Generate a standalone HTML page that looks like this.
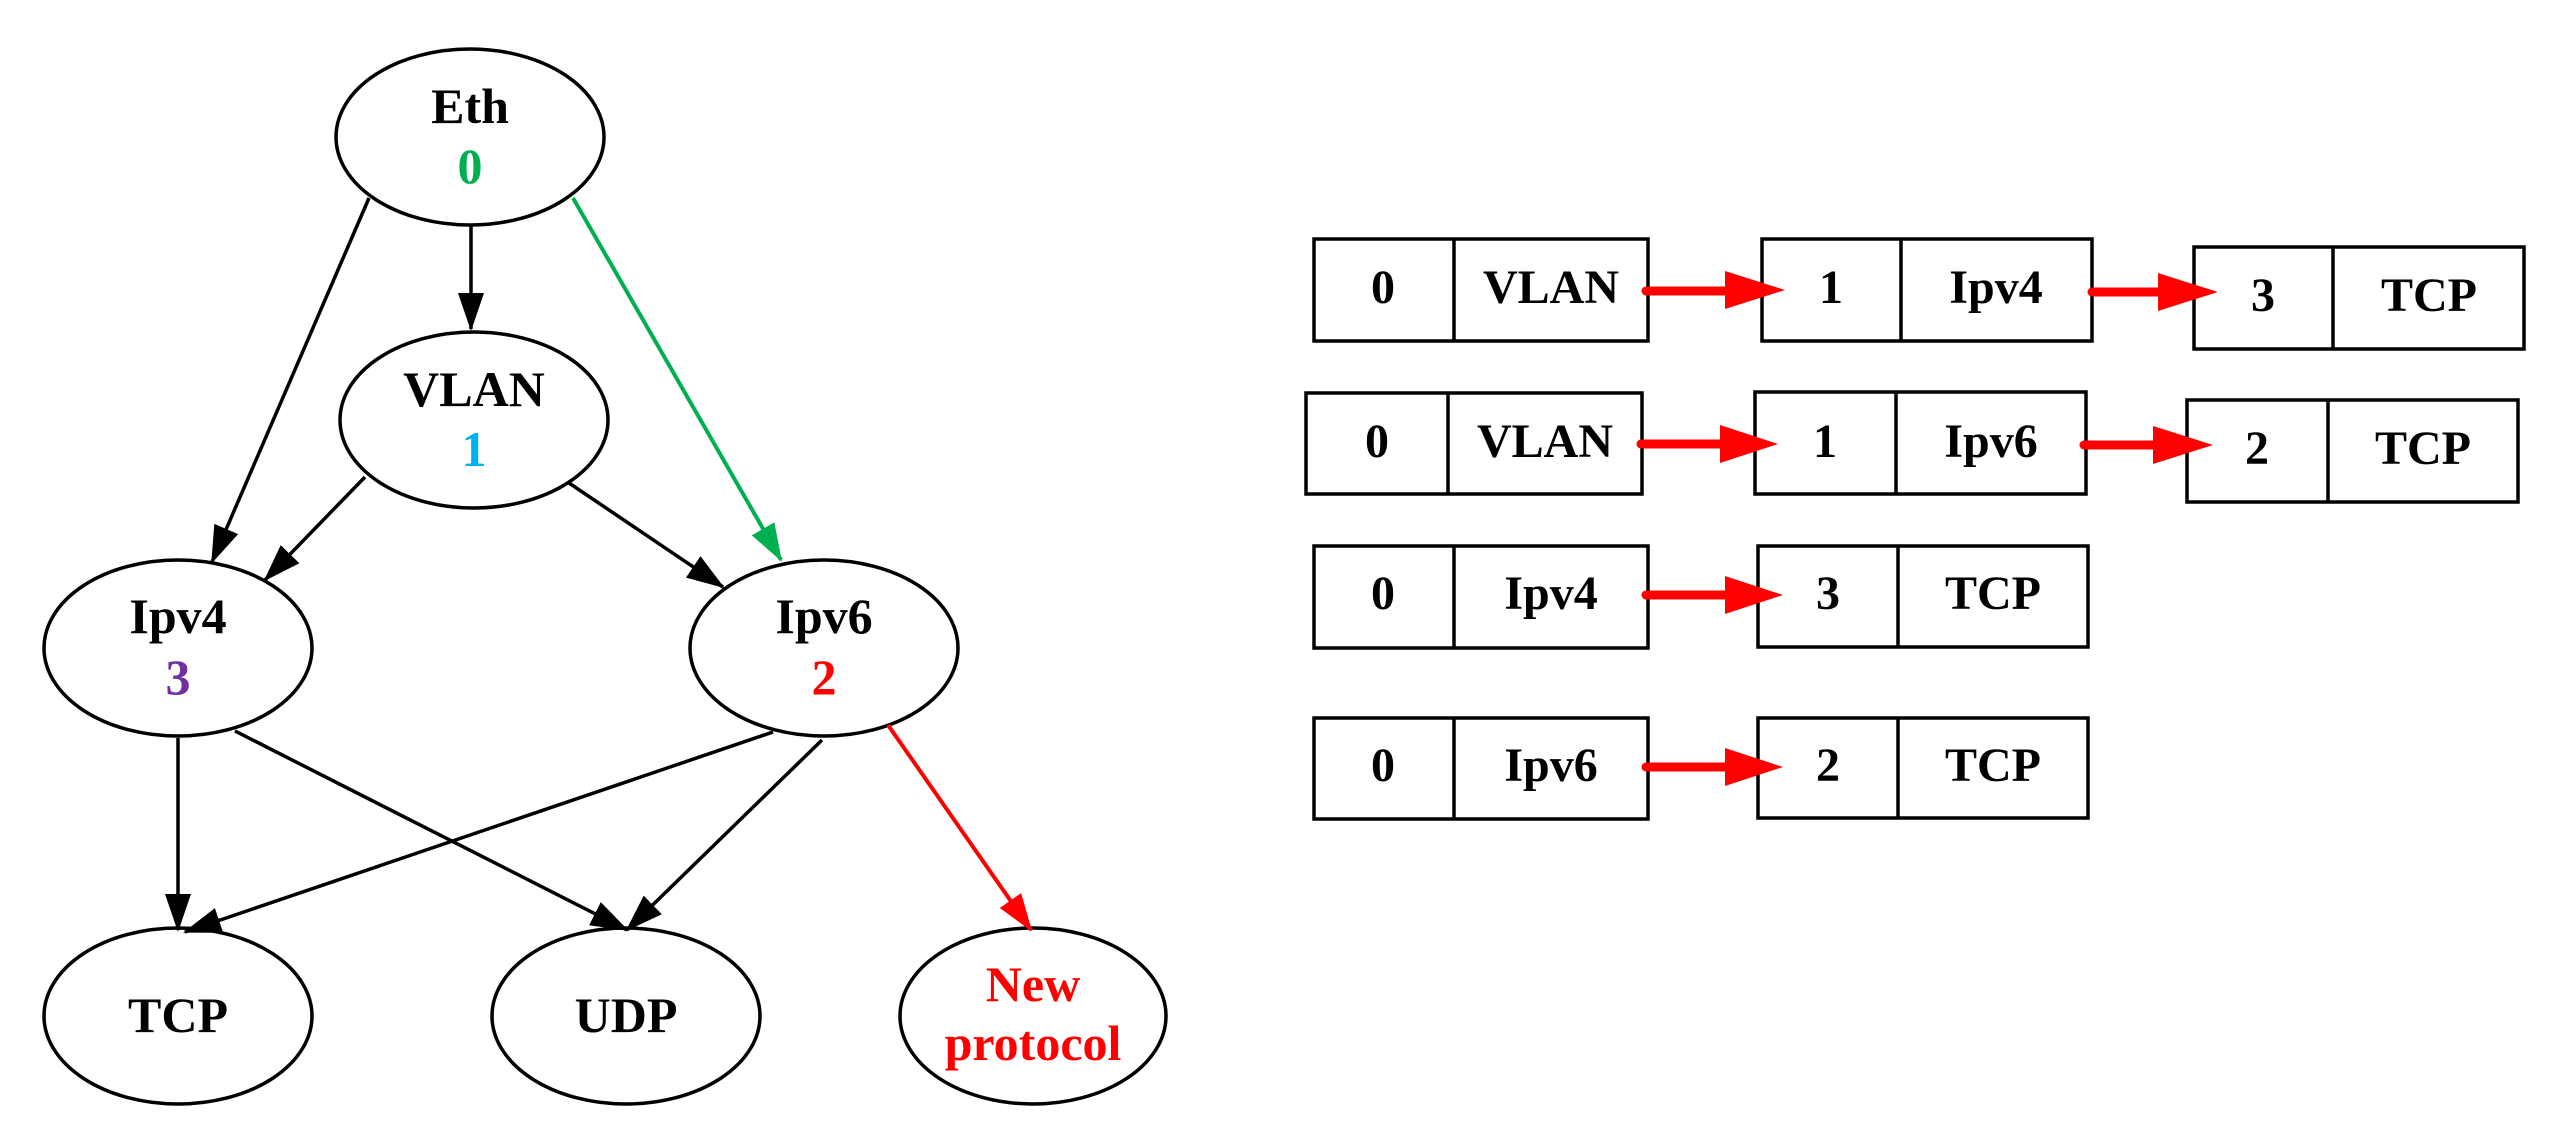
<!DOCTYPE html>
<html><head><meta charset="utf-8"><style>
html,body{margin:0;padding:0;background:#fff;}
svg{display:block;}
text{font-family:"Liberation Serif",serif;font-weight:bold;text-anchor:middle;}
</style></head><body>
<svg width="2564" height="1145" viewBox="0 0 2564 1145" xmlns="http://www.w3.org/2000/svg">
<defs>
<marker id="ab" markerWidth="38" markerHeight="26" refX="36" refY="13" orient="auto" markerUnits="userSpaceOnUse"><path d="M0,0 L38,13 L0,26 Z" fill="#000"/></marker>
<marker id="ag" markerWidth="38" markerHeight="26" refX="36" refY="13" orient="auto" markerUnits="userSpaceOnUse"><path d="M0,0 L38,13 L0,26 Z" fill="#00b050"/></marker>
<marker id="ar" markerWidth="38" markerHeight="26" refX="36" refY="13" orient="auto" markerUnits="userSpaceOnUse"><path d="M0,0 L38,13 L0,26 Z" fill="#ff0000"/></marker>
</defs>
<g fill="none" stroke="#000" stroke-width="3.5">
<ellipse cx="470" cy="137" rx="134" ry="88"/>
<ellipse cx="474" cy="420" rx="134" ry="88"/>
<ellipse cx="178" cy="648" rx="134" ry="88"/>
<ellipse cx="824" cy="648" rx="134" ry="88"/>
<ellipse cx="178" cy="1016" rx="134" ry="88"/>
<ellipse cx="626" cy="1016" rx="134" ry="88"/>
<ellipse cx="1033" cy="1016" rx="133" ry="88"/>
</g>
<g stroke="#000" stroke-width="3.5" fill="none">
<line x1="471" y1="226" x2="471" y2="329" marker-end="url(#ab)"/>
<line x1="369" y1="198" x2="212" y2="562" marker-end="url(#ab)"/>
<line x1="365" y1="477" x2="265" y2="580" marker-end="url(#ab)"/>
<line x1="569" y1="483" x2="723" y2="587" marker-end="url(#ab)"/>
<line x1="178" y1="738" x2="178" y2="930" marker-end="url(#ab)"/>
<line x1="235" y1="731" x2="627" y2="930" marker-end="url(#ab)"/>
<line x1="773" y1="732" x2="185" y2="932" marker-end="url(#ab)"/>
<line x1="822" y1="740" x2="627" y2="930" marker-end="url(#ab)"/>
</g>
<line x1="573" y1="198" x2="781" y2="560" stroke="#00b050" stroke-width="4" marker-end="url(#ag)"/>
<line x1="888" y1="725" x2="1031" y2="930" stroke="#ff0000" stroke-width="4" marker-end="url(#ar)"/>
<g font-size="50">
<text x="470" y="123">Eth</text><text x="470" y="183" fill="#00b050">0</text>
<text x="474" y="406">VLAN</text><text x="474" y="466" fill="#00b0f0">1</text>
<text x="178" y="633">Ipv4</text><text x="178" y="694" fill="#7030a0">3</text>
<text x="824" y="633">Ipv6</text><text x="824" y="694" fill="#ff0000">2</text>
<text x="178" y="1032">TCP</text>
<text x="626" y="1032">UDP</text>
<text x="1033" y="1001" fill="#ff0000">New</text>
<text x="1033" y="1060" fill="#ff0000">protocol</text>
</g>
<g fill="none" stroke="#000" stroke-width="3.5">
<rect x="1314" y="239" width="334" height="102"/><line x1="1454" y1="239" x2="1454" y2="341"/>
<rect x="1762" y="239" width="330" height="102"/><line x1="1901" y1="239" x2="1901" y2="341"/>
<rect x="2194" y="247" width="330" height="102"/><line x1="2333" y1="247" x2="2333" y2="349"/>
<rect x="1306" y="393" width="336" height="101"/><line x1="1448" y1="393" x2="1448" y2="494"/>
<rect x="1755" y="392" width="331" height="102"/><line x1="1896" y1="392" x2="1896" y2="494"/>
<rect x="2187" y="400" width="331" height="102"/><line x1="2328" y1="400" x2="2328" y2="502"/>
<rect x="1314" y="546" width="334" height="102"/><line x1="1454" y1="546" x2="1454" y2="648"/>
<rect x="1758" y="546" width="330" height="101"/><line x1="1898" y1="546" x2="1898" y2="647"/>
<rect x="1314" y="718" width="334" height="101"/><line x1="1454" y1="718" x2="1454" y2="819"/>
<rect x="1758" y="718" width="330" height="100"/><line x1="1898" y1="718" x2="1898" y2="818"/>
</g>
<g fill="#ff0000" stroke="#ff0000" stroke-width="9" stroke-linecap="round">
<line x1="1646" y1="291" x2="1727" y2="291"/><path d="M1725,271 L1785,290 L1725,309 Z" stroke="none"/>
<line x1="2092" y1="292" x2="2160" y2="292"/><path d="M2158,273 L2218,292 L2158,311 Z" stroke="none"/>
<line x1="1641" y1="444" x2="1722" y2="444"/><path d="M1720,425 L1778,444 L1720,463 Z" stroke="none"/>
<line x1="2084" y1="445" x2="2155" y2="445"/><path d="M2153,426 L2213,445 L2153,464 Z" stroke="none"/>
<line x1="1646" y1="595" x2="1727" y2="595"/><path d="M1725,576 L1783,595 L1725,614 Z" stroke="none"/>
<line x1="1646" y1="767" x2="1727" y2="767"/><path d="M1725,748 L1783,767 L1725,786 Z" stroke="none"/>
</g>
<g font-size="48">
<text x="1383" y="303">0</text><text x="1551" y="303">VLAN</text>
<text x="1831" y="303">1</text><text x="1996" y="303">Ipv4</text>
<text x="2263" y="311">3</text><text x="2429" y="311">TCP</text>
<text x="1377" y="457">0</text><text x="1545" y="457">VLAN</text>
<text x="1825" y="457">1</text><text x="1991" y="457">Ipv6</text>
<text x="2257" y="464">2</text><text x="2423" y="464">TCP</text>
<text x="1383" y="609">0</text><text x="1551" y="609">Ipv4</text>
<text x="1828" y="609">3</text><text x="1993" y="609">TCP</text>
<text x="1383" y="781">0</text><text x="1551" y="781">Ipv6</text>
<text x="1828" y="781">2</text><text x="1993" y="781">TCP</text>
</g>
</svg>
</body></html>
